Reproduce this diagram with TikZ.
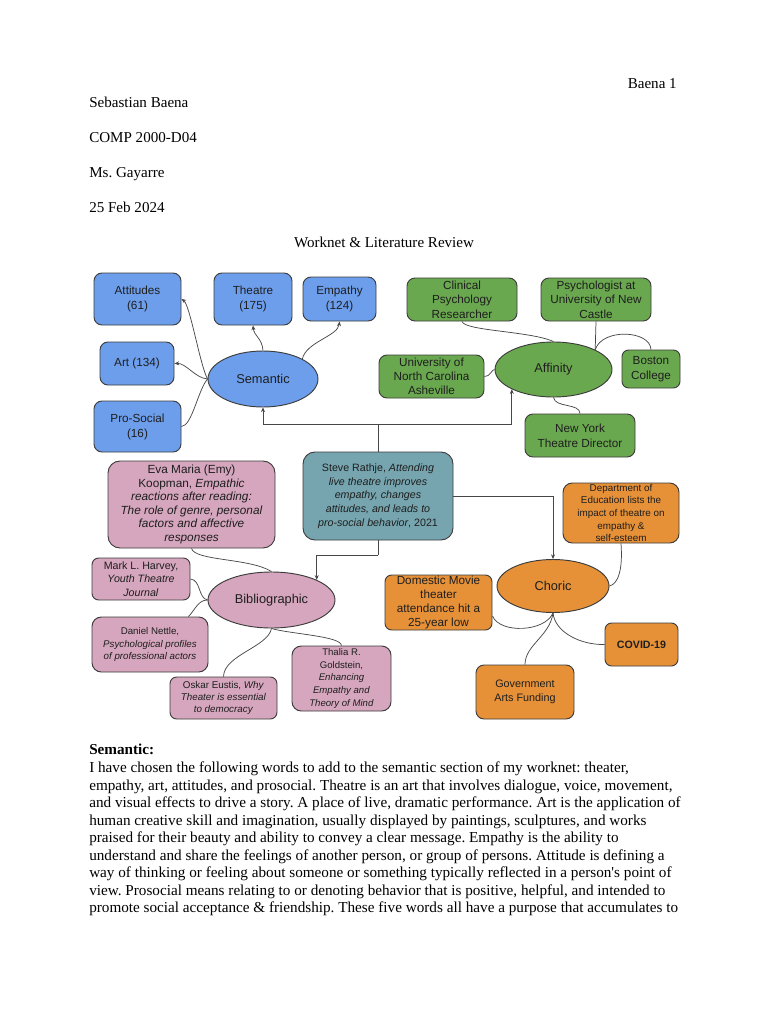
\documentclass[tikz,border=0pt]{standalone}
\usepackage{fontspec}
\setmainfont{Liberation Serif}
\setsansfont{Liberation Sans}
\usetikzlibrary{shapes.geometric,arrows.meta}
\definecolor{bluef}{HTML}{6D9EEB}
\definecolor{greenf}{HTML}{6AA84F}
\definecolor{tealf}{HTML}{76A5AF}
\definecolor{pinkf}{HTML}{D5A6BD}
\definecolor{orangef}{HTML}{E69138}
\definecolor{bord}{HTML}{3C3C3C}
\definecolor{conn}{HTML}{474747}
\definecolor{ink}{HTML}{1E1E1E}
\newcommand{\myfs}[2]{\fontsize{#1}{#2}\selectfont}
\frenchspacing
\tikzset{
  bx/.style={draw=bord, line width=0.7pt, rounded corners=6pt, align=center, inner sep=0pt, text=ink},
  el/.style={draw=bord, line width=0.7pt, ellipse, inner sep=0pt, text=ink, font=\sffamily\myfs{9.6}{11}},
  ln/.style={draw=conn, line width=0.55pt},
  ar/.style={ln, -{Stealth[length=3.5pt,width=3pt]}},
  body/.style={anchor=base west, inner sep=0pt, font=\myfs{11.4}{13}, text=black},
  fA/.style={font=\sffamily\myfs{8.8}{11.2}},
}
\begin{document}
\begin{tikzpicture}[x=0.75pt,y=-0.75pt]
\useasboundingbox (0,0) rectangle (768,1024);
\fill[white] (0,0) rectangle (768,1024);

% ---------- header ----------
\node[anchor=base east, inner sep=0pt, font=\myfs{11.3}{13}] (pg) at (677,88.5) {Baena 1};
\node[body, font=\myfs{11.3}{13}] (h1) at (89,107.5) {Sebastian Baena};
\node[body, font=\myfs{11.3}{13}] (h2) at (89,142.6) {COMP 2000-D04};
\node[body, font=\myfs{11.3}{13}] (h3) at (89,177.7) {Ms. Gayarre};
\node[body, font=\myfs{11.3}{13}] (h4) at (89,212.8) {25 Feb 2024};
\node[anchor=base, inner sep=0pt, font=\myfs{11.3}{13}] (ttl) at (384,247.9) {Worknet \& Literature Review};

% ---------- semantic (blue) ----------
\node[bx, fA, fill=bluef, minimum width=65.25pt, minimum height=39pt] (att) at (137.5,299) {Attitudes\\(61)};
\node[bx, fA, fill=bluef, minimum width=58.5pt, minimum height=39pt] (thea) at (253,299) {Theatre\\(175)};
\node[bx, fA, fill=bluef, minimum width=54.75pt, minimum height=33pt] (emp) at (339.5,299) {Empathy\\(124)};
\node[bx, fA, fill=bluef, minimum width=55.5pt, minimum height=32.25pt] (art) at (137,363.5) {Art (134)};
\node[bx, fA, fill=bluef, minimum width=65.25pt, minimum height=38.25pt] (pro) at (137.5,426.5) {Pro-Social\\(16)};
\node[el, fill=bluef, minimum width=82.5pt, minimum height=42pt] (sem) at (263,379) {Semantic};

% ---------- affinity (green) ----------
\node[bx, fA, fill=greenf, minimum width=82.5pt, minimum height=32.25pt, font=\sffamily\myfs{8.8}{10.9}] (clin) at (462,299.5) {Clinical\\Psychology\\Researcher};
\node[bx, fA, fill=greenf, minimum width=82.5pt, minimum height=32.25pt, font=\sffamily\myfs{8.8}{10.9}] (psy) at (596,299.5) {Psychologist at\\University of New\\Castle};
\node[bx, fA, fill=greenf, minimum width=43.5pt, minimum height=28.5pt, rounded corners=5pt] (bos) at (651,369) {Boston\\College};
\node[bx, fA, fill=greenf, minimum width=78.75pt, minimum height=32.25pt, font=\sffamily\myfs{8.8}{10.6}] (unc) at (431.5,376.5) {University of\\North Carolina\\Asheville};
\node[el, fill=greenf, minimum width=87.75pt, minimum height=41.25pt] (aff) at (553.5,369.5) {Affinity};
\node[bx, fA, fill=greenf, minimum width=82.5pt, minimum height=32.25pt] (nytd) at (580,435.5) {New York\\Theatre Director};

% ---------- central (teal) ----------
\node[bx, fill=tealf, minimum width=112.5pt, minimum height=66pt, rounded corners=9pt, font=\sffamily\myfs{8}{10.3}] (steve) at (378,496) {Steve Rathje, \textit{Attending}\\\textit{live theatre improves}\\\textit{empathy, changes}\\\textit{attitudes, and leads to}\\\textit{pro-social behavior}, 2021};

% ---------- bibliographic (pink) ----------
\node[bx, fill=pinkf, minimum width=125.25pt, minimum height=65.25pt, rounded corners=9pt, font=\sffamily\myfs{8.85}{10.1}] (eva) at (191.5,504.5) {Eva Maria (Emy)\\Koopman, \textit{Empathic}\\\textit{reactions after reading:}\\\textit{The role of genre, personal}\\\textit{factors and affective}\\\textit{responses}};
\node[bx, fill=pinkf, minimum width=73.5pt, minimum height=31.5pt, rounded corners=5pt, font=\sffamily\myfs{8}{10.3}] (mark) at (141,579) {Mark L. Harvey,\\\textit{Youth Theatre}\\\textit{Journal}};
\node[el, fill=pinkf, minimum width=95.25pt, minimum height=42pt] (bib) at (271.5,600) {Bibliographic};
\node[bx, fill=pinkf, minimum width=87pt, minimum height=41.25pt, rounded corners=7pt, font=\sffamily\myfs{7.3}{9.4}] (dan) at (150,644.5) {Daniel Nettle,\\\textit{Psychological profiles}\\\textit{of professional actors}};
\node[bx, fill=pinkf, minimum width=80.25pt, minimum height=31.5pt, rounded corners=5pt, font=\sffamily\myfs{7.35}{9}] (osk) at (223.5,698) {Oskar Eustis, \textit{Why}\\\textit{Theater is essential}\\\textit{to democracy}};
\node[bx, fill=pinkf, minimum width=74.25pt, minimum height=48.75pt, rounded corners=7pt, font=\sffamily\myfs{7.2}{9.4}] (thal) at (341.5,678.5) {Thalia R.\\Goldstein,\\\textit{Enhancing}\\\textit{Empathy and}\\\textit{Theory of Mind}};

% ---------- choric (orange) ----------
\node[bx, fill=orangef, minimum width=87pt, minimum height=45pt, rounded corners=7pt, font=\sffamily\myfs{7.4}{9.4}] (dept) at (621,513) {Department of\\Education lists the\\impact of theatre on\\empathy \&\\self-esteem};
\node[el, fill=orangef, minimum width=84pt, minimum height=39.75pt] (cho) at (553,586) {Choric};
\node[bx, fill=orangef, minimum width=80.25pt, minimum height=41.25pt, rounded corners=5pt, font=\sffamily\myfs{8.8}{10.3}] (dom) at (438.5,602.5) {Domestic Movie\\theater\\attendance hit a\\25-year low};
\node[bx, fill=orangef, minimum width=54.75pt, minimum height=32.25pt, rounded corners=5pt, font=\sffamily\bfseries\myfs{8}{10}] (cov) at (641.5,644.5) {COVID-19};
\node[bx, fill=orangef, minimum width=73.5pt, minimum height=40.5pt, rounded corners=6pt, font=\sffamily\myfs{8.1}{10.5}] (gov) at (525,692) {Government\\Arts Funding};

% ---------- connectors: semantic ----------
\draw[ar] (sem.west) .. controls (200,365) and (190,305) .. (att.east);
\draw[ar] (sem.west) .. controls (195,378) and (186,363) .. (art.east);
\draw[ln] (sem.west) .. controls (198,390) and (192,426) .. (pro.east);
\draw[ar] (sem.north) .. controls (262,338) and (254,336) .. (thea.south);
\draw[ar] (sem.27) .. controls (306,342) and (338,336) .. (emp.south);

% ---------- connectors: affinity ----------
\draw[ln] (clin.south) .. controls (465,331) and (530,331) .. (aff.north);
\draw[ln] (psy.south) -- (aff.north east);
\draw[ln] (bos.north) .. controls (650,330) and (602,328) .. (aff.north east);
\draw[ln] (unc.east) .. controls (490,377) and (492,369) .. (aff.west);
\draw[ln] (aff.south) .. controls (555,408) and (580,403) .. (nytd.north);

% ---------- connectors: bibliographic ----------
\draw[ln] (eva.south) .. controls (195,561) and (250,558) .. (bib.north);
\draw[ln] (mark.east) .. controls (201,580) and (198,598) .. (bib.west);
\draw[ln] (dan.36) .. controls (195,610) and (198,600) .. (bib.west);
\draw[ln] (osk.north) .. controls (224,655) and (268,647) .. (bib.south);
\draw[ln] (thal.north) .. controls (341,636) and (290,634) .. (bib.south);

% ---------- connectors: choric ----------
\draw[ln] (dept.south) .. controls (623,570) and (618,584) .. (cho.east);
\draw[ln] (dom.-14) .. controls (500,634) and (545,632) .. (cho.south);
\draw[ln] (cov.west) .. controls (580,645) and (555,632) .. (cho.south);
\draw[ln] (gov.north) .. controls (525,645) and (550,636) .. (cho.south);

% ---------- elbow connectors from the central node ----------
\coordinate (j1) at (378,424);
\coordinate (j2) at (378,555);
\draw[ln] (steve.north) -- (j1);
\draw[ar] (j1) -| (sem.south);
\draw[ar] (j1) -| (aff.south west);
\draw[ar] (steve.east) -| (cho.north);
\draw[ln] (steve.south) -- (j2);
\draw[ar] (j2) -| (bib.north east);

% ---------- body text ----------
\node[body, font=\bfseries\myfs{11.4}{13}] (sh) at (89,754.5) {Semantic:};
\node[body] (b1) at (89,772.5) {I have chosen the following words to add to the semantic section of my worknet: theater,};
\node[body] (b2) at (89,790.05) {empathy, art, attitudes, and prosocial. Theatre is an art that involves dialogue, voice, movement,};
\node[body] (b3) at (89,807.6) {and visual effects to drive a story. A place of live, dramatic performance. Art is the application of};
\node[body] (b4) at (89,825.15) {human creative skill and imagination, usually displayed by paintings, sculptures, and works};
\node[body] (b5) at (89,842.7) {praised for their beauty and ability to convey a clear message. Empathy is the ability to};
\node[body] (b6) at (89,860.25) {understand and share the feelings of another person, or group of persons. Attitude is defining a};
\node[body] (b7) at (89,877.8) {way of thinking or feeling about someone or something typically reflected in a person\textquotesingle s point of};
\node[body] (b8) at (89,895.35) {view. Prosocial means relating to or denoting behavior that is positive, helpful, and intended to};
\node[body] (b9) at (89,912.9) {promote social acceptance \& friendship. These five words all have a purpose that accumulates to};
\end{tikzpicture}
\end{document}
